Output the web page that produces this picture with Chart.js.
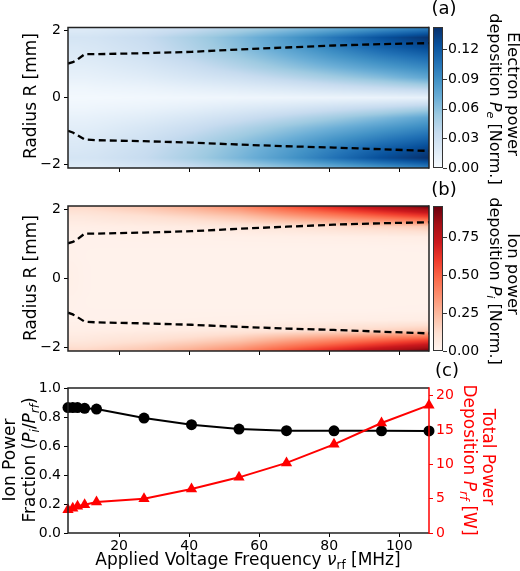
<!DOCTYPE html>
<html>
<head>
<meta charset="utf-8">
<script src="https://cdn.jsdelivr.net/npm/chart.js@4"></script>
<style>
  html, body { margin: 0; background: #fff; }
  #wrap { position: relative; width: 520px; height: 571px; }
  canvas { position: absolute; left: 0; top: 0; }
</style>
</head>
<body>
<div id="wrap">
  <canvas id="chartA" width="520" height="571"></canvas>
  <canvas id="chartB" width="520" height="571"></canvas>
  <canvas id="chartC" width="520" height="571"></canvas>
</div>
<script>
// ── Data ────────────────────────────────────────────────────
const freqMHz = [5.42, 6.78, 8.14, 10.17, 13.56, 27.12, 40.68, 54.24, 67.8, 81.36, 94.92, 108.48];
const radiusMM = [-2.1, -1.8, -1.5, -1.2, -0.9, -0.6, -0.3, 0, 0.3, 0.6, 0.9, 1.2, 1.5, 1.8, 2.1];

// sheath edge (dashed lines)
const sheathUpper = [1.02, 1.06, 1.14, 1.30, 1.30, 1.33, 1.37, 1.44, 1.50, 1.56, 1.60, 1.63];
const sheathLower = [-0.99, -1.04, -1.12, -1.25, -1.27, -1.30, -1.34, -1.40, -1.45, -1.49, -1.54, -1.59];

// electron power deposition, one row per radius (bottom to top)
const electronDeposition = [
  [0.017, 0.017, 0.017, 0.017, 0.018, 0.024, 0.033, 0.045, 0.058, 0.071, 0.085, 0.098],
  [0.025, 0.025, 0.025, 0.025, 0.026, 0.035, 0.049, 0.066, 0.085, 0.106, 0.126, 0.142],
  [0.021, 0.021, 0.021, 0.022, 0.023, 0.032, 0.046, 0.062, 0.080, 0.098, 0.115, 0.130],
  [0.018, 0.018, 0.018, 0.019, 0.020, 0.028, 0.040, 0.054, 0.069, 0.085, 0.099, 0.112],
  [0.015, 0.015, 0.015, 0.015, 0.016, 0.023, 0.032, 0.044, 0.057, 0.070, 0.083, 0.095],
  [0.011, 0.011, 0.011, 0.011, 0.012, 0.016, 0.023, 0.031, 0.041, 0.052, 0.064, 0.078],
  [0.006, 0.006, 0.006, 0.006, 0.007, 0.009, 0.013, 0.018, 0.023, 0.030, 0.037, 0.046],
  [0.003, 0.003, 0.003, 0.003, 0.003, 0.004, 0.005, 0.006, 0.007, 0.008, 0.009, 0.011],
  [0.006, 0.006, 0.006, 0.006, 0.007, 0.009, 0.013, 0.017, 0.022, 0.029, 0.036, 0.044],
  [0.011, 0.011, 0.011, 0.011, 0.012, 0.016, 0.023, 0.030, 0.040, 0.051, 0.062, 0.076],
  [0.015, 0.015, 0.015, 0.015, 0.016, 0.022, 0.031, 0.043, 0.056, 0.069, 0.082, 0.094],
  [0.018, 0.018, 0.018, 0.019, 0.020, 0.027, 0.039, 0.053, 0.068, 0.084, 0.098, 0.110],
  [0.021, 0.021, 0.021, 0.022, 0.023, 0.031, 0.045, 0.061, 0.079, 0.097, 0.114, 0.128],
  [0.025, 0.025, 0.025, 0.025, 0.026, 0.034, 0.048, 0.064, 0.083, 0.104, 0.124, 0.140],
  [0.017, 0.017, 0.017, 0.017, 0.018, 0.023, 0.032, 0.044, 0.056, 0.069, 0.083, 0.096],
];

// ion power deposition, one row per radius (bottom to top)
const ionDeposition = [
  [0.150, 0.150, 0.150, 0.150, 0.160, 0.210, 0.290, 0.390, 0.540, 0.680, 0.820, 0.950],
  [0.075, 0.075, 0.075, 0.077, 0.085, 0.115, 0.155, 0.210, 0.310, 0.400, 0.500, 0.600],
  [0.038, 0.038, 0.038, 0.038, 0.040, 0.048, 0.058, 0.076, 0.096, 0.125, 0.155, 0.190],
  [0.022, 0.022, 0.022, 0.022, 0.022, 0.024, 0.027, 0.030, 0.033, 0.037, 0.041, 0.047],
  [0.022, 0.022, 0.021, 0.020, 0.020, 0.020, 0.020, 0.020, 0.020, 0.020, 0.020, 0.021],
  [0.024, 0.024, 0.022, 0.020, 0.019, 0.019, 0.019, 0.019, 0.019, 0.019, 0.019, 0.019],
  [0.030, 0.029, 0.026, 0.021, 0.019, 0.018, 0.018, 0.018, 0.018, 0.018, 0.018, 0.018],
  [0.032, 0.031, 0.027, 0.021, 0.019, 0.018, 0.018, 0.018, 0.018, 0.018, 0.018, 0.018],
  [0.030, 0.029, 0.026, 0.021, 0.019, 0.018, 0.018, 0.018, 0.018, 0.018, 0.018, 0.018],
  [0.024, 0.024, 0.022, 0.020, 0.019, 0.019, 0.019, 0.019, 0.019, 0.019, 0.019, 0.019],
  [0.022, 0.022, 0.021, 0.020, 0.020, 0.020, 0.020, 0.020, 0.020, 0.020, 0.020, 0.021],
  [0.022, 0.022, 0.022, 0.022, 0.022, 0.024, 0.027, 0.030, 0.033, 0.037, 0.041, 0.047],
  [0.038, 0.038, 0.038, 0.038, 0.040, 0.048, 0.058, 0.076, 0.096, 0.125, 0.155, 0.190],
  [0.075, 0.075, 0.075, 0.077, 0.085, 0.115, 0.155, 0.210, 0.310, 0.400, 0.500, 0.600],
  [0.150, 0.150, 0.150, 0.150, 0.160, 0.210, 0.290, 0.390, 0.540, 0.680, 0.820, 0.956],
];

// panel (c)
const ionFraction = [0.865, 0.865, 0.865, 0.86, 0.855, 0.793, 0.747, 0.717, 0.706, 0.705, 0.705, 0.704];
const totalPowerW = [3.4, 3.6, 3.9, 4.1, 4.5, 5.0, 6.4, 8.1, 10.2, 12.9, 16.0, 18.6];

// tick labels
const freqTicks = [20, 40, 60, 80, 100];
const radiusTicks = [-2, 0, 2];
const electronTicks = [0, 0.03, 0.06, 0.09, 0.12];
const ionTicks = [0, 0.25, 0.5, 0.75];
const fractionTicks = [0, 0.2, 0.4, 0.6, 0.8, 1.0];
const powerTicks = [0, 5, 10, 15, 20];

// ── Colormaps ───────────────────────────────────────────────
const BLUES = ['#f7fbff', '#deebf7', '#c6dbef', '#9ecae1', '#6baed6', '#4292c6', '#2171b5', '#08519c', '#08306b'];
const REDS = ['#fff5f0', '#fee0d2', '#fcbba1', '#fc9272', '#fb6a4a', '#ef3b2c', '#cb181d', '#a50f15', '#67000d'];

function hexRgb(h) {
  return [parseInt(h.slice(1, 3), 16), parseInt(h.slice(3, 5), 16), parseInt(h.slice(5, 7), 16)];
}

function cmapColor(stops, t) {
  t = Math.max(0, Math.min(1, t));
  const pos = t * (stops.length - 1);
  const i = Math.min(stops.length - 2, Math.floor(pos));
  const f = pos - i;
  const a = hexRgb(stops[i]), b = hexRgb(stops[i + 1]);
  return [0, 1, 2].map(k => Math.round(a[k] + (b[k] - a[k]) * f));
}

// ── Helpers ─────────────────────────────────────────────────
const FONT = "'DejaVu Sans', sans-serif";
Chart.defaults.font.family = FONT;
Chart.defaults.font.size = 14;
Chart.defaults.color = '#000';

const setTicks = vals => s => { s.ticks = vals.map(v => ({ value: v })); };
const minusFmt = v => (v < 0 ? '\u2212' + Math.abs(v) : String(v));

function bracket(arr, v) {
  let i = 0;
  while (i < arr.length - 2 && v > arr[i + 1]) i++;
  const t = Math.max(0, Math.min(1, (v - arr[i]) / (arr[i + 1] - arr[i])));
  return [i, t];
}

function sampleGrid(grid, xv, yv) {
  const [i, tx] = bracket(freqMHz, xv);
  const [j, ty] = bracket(radiusMM, yv);
  const a = grid[j][i], b = grid[j][i + 1];
  const c = grid[j + 1][i], d = grid[j + 1][i + 1];
  return (a * (1 - tx) + b * tx) * (1 - ty) + (c * (1 - tx) + d * tx) * ty;
}

// rich text: segments [text, kind] kind: i italic, s italic sub, r roman sub
function drawRich(ctx, segs, x, y, size, color, angle) {
  ctx.save();
  ctx.translate(x, y);
  ctx.rotate(angle || 0);
  ctx.fillStyle = color || '#000';
  ctx.textBaseline = 'middle';
  ctx.textAlign = 'left';
  const fontOf = k => {
    const sz = (k === 's' || k === 'r') ? size * 0.7 : size;
    const it = (k === 'i' || k === 's') ? 'italic ' : '';
    return it + sz + 'px ' + FONT;
  };
  let total = 0;
  const widths = segs.map(([t, k]) => {
    ctx.font = fontOf(k);
    const w = ctx.measureText(t).width;
    total += w;
    return w;
  });
  let cx = -total / 2;
  segs.forEach(([t, k], i) => {
    ctx.font = fontOf(k);
    ctx.fillText(t, cx, (k === 's' || k === 'r') ? size * 0.28 : 0);
    cx += widths[i];
  });
  ctx.restore();
}

// ── Plugins ─────────────────────────────────────────────────
function heatmapPlugin(grid, stops, vmax) {
  return {
    id: 'heatmap',
    beforeDatasetsDraw(chart) {
      const { ctx, chartArea: ca, scales } = chart;
      const x0 = Math.round(ca.left), y0 = Math.round(ca.top);
      const w = Math.round(ca.right) - x0, h = Math.round(ca.bottom) - y0;
      const img = ctx.createImageData(w, h);
      for (let py = 0; py < h; py++) {
        const yv = scales.y.getValueForPixel(y0 + py + 0.5);
        for (let px = 0; px < w; px++) {
          const xv = scales.x.getValueForPixel(x0 + px + 0.5);
          const c = cmapColor(stops, sampleGrid(grid, xv, yv) / vmax);
          const o = (py * w + px) * 4;
          img.data[o] = c[0]; img.data[o + 1] = c[1]; img.data[o + 2] = c[2]; img.data[o + 3] = 255;
        }
      }
      ctx.putImageData(img, x0, y0);
    },
  };
}

function colorbarPlugin(stops, vmax, ticks) {
  return {
    id: 'colorbar',
    afterDraw(chart) {
      const { ctx, chartArea: ca, scales } = chart;
      const s = scales.cb;
      const left = ca.right + 4, width = 10;
      for (let y = Math.round(ca.top); y < Math.round(ca.bottom); y++) {
        const c = cmapColor(stops, s.getValueForPixel(y + 0.5) / vmax);
        ctx.fillStyle = `rgb(${c[0]},${c[1]},${c[2]})`;
        ctx.fillRect(left, y, width, 1);
      }
      ctx.strokeStyle = '#333';
      ctx.lineWidth = 1;
      ctx.strokeRect(left + 0.5, Math.round(ca.top) + 0.5, width - 1, Math.round(ca.bottom - ca.top) - 1);
      ctx.beginPath();
      ticks.forEach(v => {
        const y = Math.round(s.getPixelForValue(v)) + 0.5;
        ctx.moveTo(left + width, y);
        ctx.lineTo(left + width + 4, y);
      });
      ctx.stroke();
    },
  };
}

function framePlugin(rightColor) {
  return {
    id: 'frame',
    afterDatasetsDraw(chart) {
      const { ctx, chartArea: ca } = chart;
      ctx.save();
      ctx.lineWidth = 1.5;
      ctx.strokeStyle = '#222';
      ctx.beginPath();
      ctx.moveTo(ca.right, ca.top);
      ctx.lineTo(ca.left, ca.top);
      ctx.lineTo(ca.left, ca.bottom);
      ctx.lineTo(ca.right, ca.bottom);
      ctx.stroke();
      ctx.strokeStyle = rightColor || '#222';
      ctx.beginPath();
      ctx.moveTo(ca.right, ca.top - 0.75);
      ctx.lineTo(ca.right, ca.bottom + 0.75);
      ctx.stroke();
      ctx.restore();
    },
  };
}

function textPlugin(items) {
  return {
    id: 'texts',
    afterDraw(chart) {
      items.forEach(it => drawRich(chart.ctx, it.segs, it.x, it.y, it.size, it.color, it.angle));
    },
  };
}

// ── Shared axis pieces ──────────────────────────────────────
const tickGrid = { drawOnChartArea: false, tickLength: 4, color: '#000', lineWidth: 1 };
const CH = 571;

function heatmapChart(id, grid, stops, vmax, cbTicks, top, bottom, texts) {
  const sheathStyle = { borderColor: '#000', borderWidth: 2.3, borderDash: [7, 4], pointRadius: 0, tension: 0 };
  return new Chart(document.getElementById(id), {
    type: 'line',
    data: {
      datasets: [
        { ...sheathStyle, data: freqMHz.map((f, i) => ({ x: f, y: sheathUpper[i] })) },
        { ...sheathStyle, data: freqMHz.map((f, i) => ({ x: f, y: sheathLower[i] })) },
      ],
    },
    options: {
      responsive: false,
      animation: false,
      devicePixelRatio: 1,
      events: [],
      layout: { padding: { top: top, bottom: CH - bottom - 12, left: 0, right: 0 } },
      plugins: { legend: { display: false }, tooltip: { enabled: false } },
      scales: {
        x: {
          type: 'linear', bounds: 'data',
          min: freqMHz[0], max: freqMHz[freqMHz.length - 1],
          afterBuildTicks: setTicks(freqTicks),
          afterFit: s => { s.height = 12; },
          ticks: { callback: () => '' },
          grid: tickGrid, border: { display: false },
        },
        y: {
          type: 'linear', bounds: 'data', min: -2.1, max: 2.1,
          afterBuildTicks: setTicks(radiusTicks),
          afterFit: s => { s.width = 68; },
          ticks: { padding: 3, callback: minusFmt },
          grid: tickGrid, border: { display: false },
        },
        cb: {
          type: 'linear', position: 'right', bounds: 'data', min: 0, max: vmax,
          afterBuildTicks: setTicks(cbTicks),
          afterFit: s => { s.width = 520 - 429; },
          ticks: { padding: 19, callback: v => v.toFixed(2) },
          grid: { drawOnChartArea: false, drawTicks: false }, border: { display: false },
        },
      },
    },
    plugins: [heatmapPlugin(grid, stops, vmax), framePlugin(), colorbarPlugin(stops, vmax, cbTicks), textPlugin(texts)],
  });
}

// ── Panel (a) ───────────────────────────────────────────────
heatmapChart('chartA', electronDeposition, BLUES, 0.142, electronTicks, 24, 168, [
  { segs: [['Radius R [mm]']], x: 32, y: 96, size: 17, angle: -Math.PI / 2 },
  { segs: [['Electron power']], x: 512, y: 94, size: 16.5, angle: Math.PI / 2 },
  { segs: [['deposition '], ['P', 'i'], ['e', 's'], [' [Norm.]']], x: 494, y: 99, size: 16, angle: Math.PI / 2 },
  { segs: [['(a)']], x: 444, y: 9, size: 18 },
]);

// ── Panel (b) ───────────────────────────────────────────────
heatmapChart('chartB', ionDeposition, REDS, 0.956, ionTicks, 206, 351, [
  { segs: [['Radius R [mm]']], x: 32, y: 278, size: 17, angle: -Math.PI / 2 },
  { segs: [['Ion power']], x: 512, y: 274, size: 16.5, angle: Math.PI / 2 },
  { segs: [['deposition '], ['P', 'i'], ['i', 's'], [' [Norm.]']], x: 494, y: 281, size: 16, angle: Math.PI / 2 },
  { segs: [['(b)']], x: 444, y: 190, size: 18 },
]);

// ── Panel (c) ───────────────────────────────────────────────
new Chart(document.getElementById('chartC'), {
  type: 'line',
  data: {
    datasets: [
      {
        data: freqMHz.map((f, i) => ({ x: f, y: totalPowerW[i] })),
        yAxisID: 'y2', order: 0,
        borderColor: '#ff0000', backgroundColor: '#ff0000', borderWidth: 2,
        pointStyle: 'triangle', pointRadius: 6.5, pointBorderWidth: 0, tension: 0,
      },
      {
        data: freqMHz.map((f, i) => ({ x: f, y: ionFraction[i] })),
        yAxisID: 'y', order: 1,
        borderColor: '#000', backgroundColor: '#000', borderWidth: 2,
        pointStyle: 'circle', pointRadius: 5.5, pointBorderWidth: 0, tension: 0,
      },
    ],
  },
  options: {
    responsive: false,
    animation: false,
    devicePixelRatio: 1,
    events: [],
    clip: false,
    layout: { padding: { top: 388, bottom: CH - 533 - 20, left: 0, right: 0 } },
    plugins: { legend: { display: false }, tooltip: { enabled: false } },
    scales: {
      x: {
        type: 'linear', bounds: 'data',
        min: freqMHz[0], max: freqMHz[freqMHz.length - 1],
        afterBuildTicks: setTicks(freqTicks),
        afterFit: s => { s.height = 20; },
        ticks: { padding: 1, maxRotation: 0 },
        grid: tickGrid, border: { display: false },
      },
      y: {
        type: 'linear', bounds: 'data', min: 0, max: 1,
        afterBuildTicks: setTicks(fractionTicks),
        afterFit: s => { s.width = 68; },
        ticks: { padding: 3, callback: v => v.toFixed(1) },
        grid: tickGrid, border: { display: false },
      },
      y2: {
        type: 'linear', position: 'right', bounds: 'data', min: 0, max: 21.1,
        afterBuildTicks: setTicks(powerTicks),
        afterFit: s => { s.width = 520 - 429; },
        ticks: { padding: 3, color: '#ff0000' },
        grid: { drawOnChartArea: false, tickLength: 4, color: '#ff0000' }, border: { display: false },
      },
    },
  },
  plugins: [framePlugin('#ff0000'), textPlugin([
    { segs: [['Ion Power']], x: 11, y: 460, size: 17, angle: -Math.PI / 2 },
    { segs: [['Fraction ('], ['P', 'i'], ['i', 's'], ['/'], ['P', 'i'], ['rf', 's'], [')']], x: 31, y: 460, size: 17, angle: -Math.PI / 2 },
    { segs: [['Total Power']], x: 487, y: 457, size: 17, color: '#ff0000', angle: Math.PI / 2 },
    { segs: [['Deposition '], ['P', 'i'], ['rf', 's'], [' [W]']], x: 468, y: 460, size: 17, color: '#ff0000', angle: Math.PI / 2 },
    { segs: [['(c)']], x: 447, y: 371, size: 18 },
    { segs: [['Applied Voltage Frequency '], ['\u03bd', 'i'], ['rf', 'r'], [' [MHz]']], x: 248, y: 561, size: 17 },
  ])],
});
</script>
</body>
</html>
